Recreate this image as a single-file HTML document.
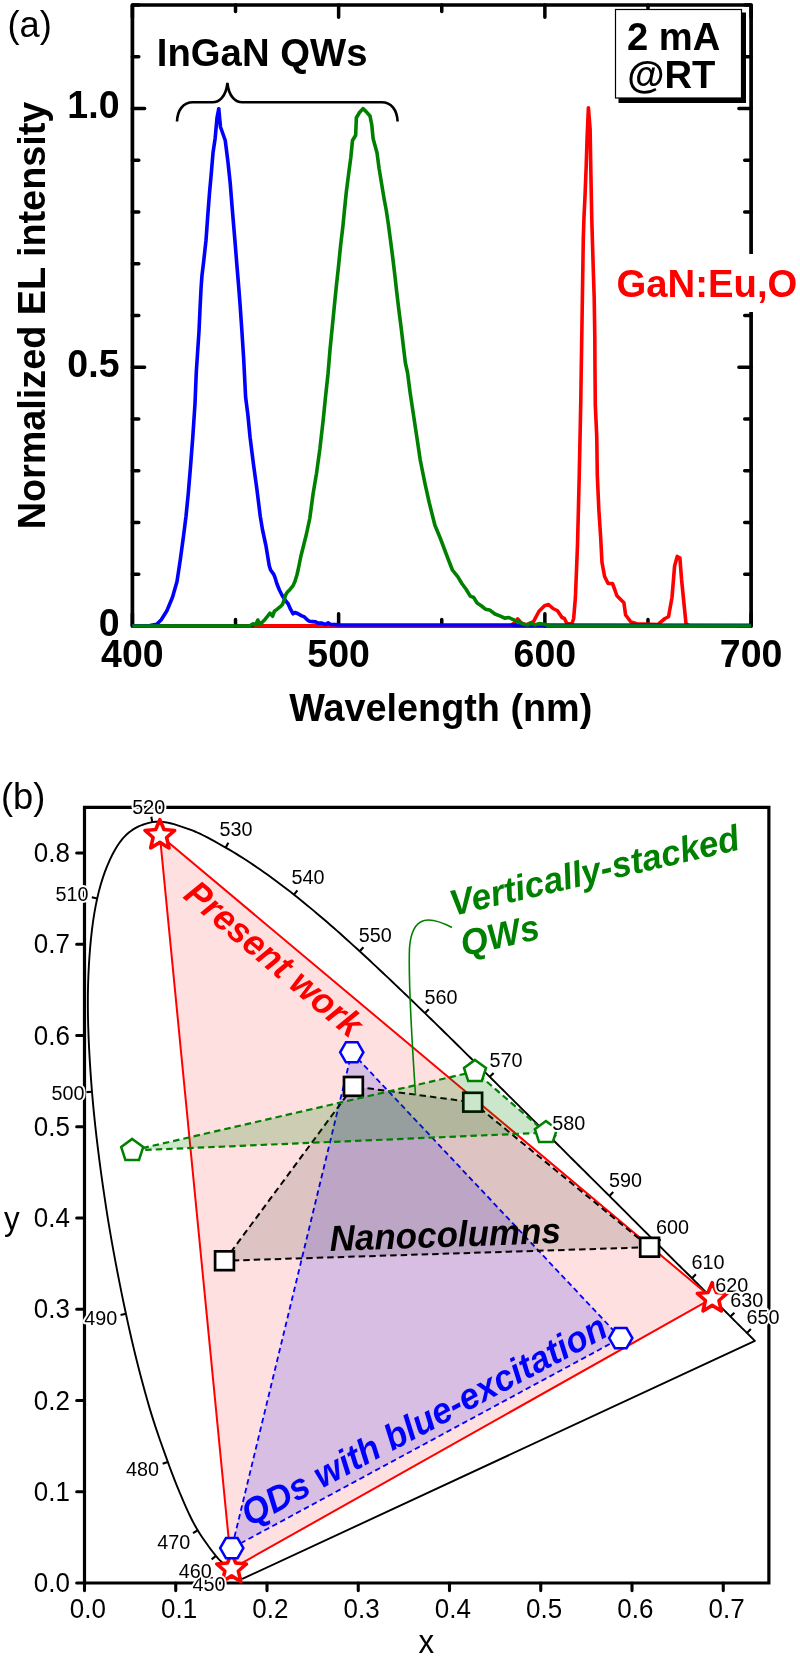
<!DOCTYPE html><html><head><meta charset="utf-8"><title>EL spectra and CIE diagram</title><style>html,body{margin:0;padding:0;background:#fff;overflow:hidden;}svg{display:block;will-change:transform;}text{font-family:"Liberation Sans",sans-serif;}</style></head><body>
<svg width="800" height="1657" viewBox="0 0 800 1657" font-family="Liberation Sans, sans-serif">
<rect width="800" height="1657" fill="#fff"/>
<text transform="translate(7.5 37.3) scale(1 1.035)" font-size="36.3">(a)</text>
<path d="M132.4 626V5H751.1V626Z" fill="none" stroke="#000" stroke-width="3.7" stroke-linejoin="round"/>
<path d="M132.4 626v-12.2M132.4 5v12.2M235.52 626v-6.4M235.52 5v6.4M338.63 626v-12.2M338.63 5v12.2M441.75 626v-6.4M441.75 5v6.4M544.87 626v-12.2M544.87 5v12.2M647.98 626v-6.4M647.98 5v6.4M751.1 626v-12.2M751.1 5v12.2M132.4 626h12.2M751.1 626h-12.2M132.4 574.25h6.4M751.1 574.25h-6.4M132.4 522.5h6.4M751.1 522.5h-6.4M132.4 470.75h6.4M751.1 470.75h-6.4M132.4 419h6.4M751.1 419h-6.4M132.4 367.25h12.2M751.1 367.25h-12.2M132.4 315.5h6.4M751.1 315.5h-6.4M132.4 263.75h6.4M751.1 263.75h-6.4M132.4 212h6.4M751.1 212h-6.4M132.4 160.25h6.4M751.1 160.25h-6.4M132.4 108.5h12.2M751.1 108.5h-12.2M132.4 56.75h6.4M751.1 56.75h-6.4M132.4 5h6.4M751.1 5h-6.4" stroke="#000" stroke-width="3.5" stroke-linecap="round" fill="none"/>
<path d="M253.5 625.9 L510 625.9 L514.3 623 L517.7 618.8 L521.2 623 L526 625 L533.5 621.6 L539 611.25 L544.5 605.75 L548.5 604.5 L553 608.5 L557.5 610.75 L562 617.5 L564.4 618.5 L567 623.75 L571.9 623.75 L573.65 618.5 L575.4 597.5 L576.6 567.75 L577.5 545 L578.4 510 L579.25 475 L580.1 434.75 L580.8 400 L581.2 372 L581.6 348.5 L582.2 309.6 L582.8 270.7 L583.3 238.6 L584 216.7 L585 196.4 L586.2 166 L587.05 138.9 L588.4 107.7 L590.1 128.8 L591 179.5 L591.8 220 L593 260.6 L594.2 297.8 L594.8 336.6 L595 372 L595.3 405 L596.75 436.5 L597.3 475 L598.85 510 L600.6 536.25 L602 562.5 L604.6 576.5 L608.1 583.5 L612.5 583.5 L615.1 590.5 L616.9 595.75 L620.4 599.25 L623.9 602.75 L625.6 615 L628.25 618.5 L630.9 622 L637 623.75 L658 624.6 L659.75 622.9 L665 618.5 L668.5 616.75 L672 597.5 L674.6 566 L677.25 556.4 L679.9 558.1 L681.6 580 L684.25 606.25 L686 623.75 L690 626.3 L700 626.3" fill="none" stroke="#f00" stroke-width="3.6" stroke-linejoin="round"/>
<path d="M132.4 626 L150 625.6 L156.75 624.25 L161.25 619.75 L166.9 610.75 L172.5 597.25 L177 581.5 L180.4 559 L183.75 534.25 L186 516.25 L188.25 493.75 L190.5 466.75 L192.75 437.5 L195 403.75 L196.3 372 L197.25 357.5 L199 331.25 L200.2 305 L201.1 287.5 L202 275.25 L203.7 261.25 L206 240.25 L207.75 215.75 L209.5 193 L211.25 173.75 L213 152.8 L215.1 138.75 L217 117.8 L218.8 108.7 L219.6 118 L220.5 127 L225.25 140.5 L227.9 161.5 L230.15 182.5 L232.25 208.75 L234.9 240.25 L237 266.5 L238.75 287.5 L240.1 305 L241.9 331.25 L243.6 357.5 L244.5 375 L245.6 397 L247.9 415 L250.1 437.5 L253.5 464.5 L256.9 489.25 L260.25 516.25 L262.5 529.75 L265.9 545.5 L269.25 565.75 L270.6 570 L273.75 574.4 L275 577.5 L276.9 583.75 L279.4 590 L281.9 595 L285 600 L288.1 603.75 L290.6 609.4 L293.1 613.75 L295 612.5 L298.1 613.75 L301.25 615.6 L304.4 616.9 L307.5 620 L309.4 621.25 L312.5 621.6 L315.6 621.9 L318.1 623.1 L321.9 623.1 L325.6 624.4 L328.1 622.8 L330.6 624.4 L340 624.9 L751.1 625.2" fill="none" stroke="#00f" stroke-width="3.6" stroke-linejoin="round"/>
<path d="M132.4 626 L250 625.8 L253.1 623.75 L255.6 625 L257.8 620 L260 624.4 L262.5 621.9 L265 619.4 L267.5 616.25 L270 613.1 L272.5 616.25 L274.4 611.25 L276.9 609.4 L280 606.9 L282.5 604.4 L284.1 600 L285.6 595 L287.5 591.9 L290 589.4 L293.1 585.6 L295 581.25 L296.9 575 L298.1 570 L300.75 556.75 L306.4 534.25 L309.75 518.5 L313.1 493.75 L316.5 473.5 L319.9 448.75 L323.25 419.5 L325.5 397 L328 374 L330.1 348.75 L331.85 331.25 L334.1 308.5 L336.2 287.5 L338.5 266.5 L340.6 245.5 L342.9 226.25 L344.6 208.75 L346.4 191.25 L348.65 173.75 L350.75 158 L352.5 140.5 L355.65 135.25 L356.35 117.75 L359.5 112.5 L363 108.65 L366.15 111.6 L370 116 L371.75 124.75 L373.15 138.75 L377 152.75 L379.1 168.5 L381.4 182.5 L384 198.25 L386.3 210.5 L388.4 224.5 L390.5 240.25 L392.75 257.75 L394.85 275.25 L396.8 292.75 L398.9 310.25 L401.15 327.75 L403.25 345.25 L405.35 362.75 L407.5 372.5 L410.1 392.5 L413.5 415 L416.9 437.5 L420.25 460 L424.75 482.5 L429.25 502.75 L434.9 525.25 L440.5 538.75 L447.25 556.75 L452.4 570 L457.9 576.9 L462 583.75 L466.1 589.25 L470.25 596.1 L473.7 597.5 L477.1 603 L481.25 605.75 L485.4 609.2 L489.5 609.9 L495 614 L500.5 616.1 L504.65 618.1 L508.8 617.5 L514.3 620.2 L519.8 622.3 L523.9 624.3 L528 625 L530.8 623 L534.9 625 L539 623.6 L544.5 624.3 L550 625.7 L560 626 L751.1 626" fill="none" stroke="#008000" stroke-width="3.6" stroke-linejoin="round"/>
<g font-weight="bold" font-size="37.5">
<text transform="translate(132.4 666.5) scale(1 1.035)" text-anchor="middle">400</text>
<text transform="translate(338.63 666.5) scale(1 1.035)" text-anchor="middle">500</text>
<text transform="translate(544.87 666.5) scale(1 1.035)" text-anchor="middle">600</text>
<text transform="translate(751.1 666.5) scale(1 1.035)" text-anchor="middle">700</text>
<text transform="translate(119.5 636) scale(1 1.035)" text-anchor="end">0</text>
<text transform="translate(119.5 376.5) scale(1 1.035)" text-anchor="end">0.5</text>
<text transform="translate(119.5 117.6) scale(1 1.035)" text-anchor="end">1.0</text>
<text transform="translate(440.8 721) scale(1 1.035)" text-anchor="middle" font-size="37.8">Wavelength (nm)</text>
<text transform="translate(45.4 315.5) rotate(-90) scale(1 1.035)" text-anchor="middle" font-size="37.8">Normalized EL intensity</text>
<text transform="translate(156.8 66) scale(1 1.035)" font-size="38.3">InGaN QWs</text>
</g>
<path d="M177 121.5C177.5 110 183 102.3 193 102.3H212.5C219 102.3 226 97 227.4 83C228.8 97 235.8 102.3 242.3 102.3H381.6C391.6 102.3 397.1 110 397.6 121.5" fill="none" stroke="#000" stroke-width="2.6"/>
<rect x="612" y="254" width="188" height="58" fill="#fff"/>
<text transform="translate(616.5 297.3) scale(1 1.035)" font-weight="bold" font-size="38.3" fill="#f00">GaN:Eu,O</text>
<rect x="618.5" y="12.5" width="127.5" height="90.5" fill="#000"/>
<rect x="615.5" y="9.5" width="126" height="88.5" fill="#fff" stroke="#000" stroke-width="1.2"/>
<text transform="translate(627 49.8) scale(1 1.035)" font-weight="bold" font-size="38.2">2 mA</text>
<text transform="translate(627.2 88) scale(1 1.035)" font-weight="bold" font-size="38.2">@RT</text>
<text transform="translate(1 809.2) scale(1 1.035)" font-size="36.3">(b)</text>
<path d="M84.5 1583V807.38H768.88V1583Z" fill="none" stroke="#000" stroke-width="3.2"/>
<path d="M84.5 1583v7.6M175.75 1583v7.6M267 1583v7.6M358.25 1583v7.6M449.5 1583v7.6M540.75 1583v7.6M632 1583v7.6M723.25 1583v7.6M84.5 1583h-7.8M84.5 1491.75h-7.8M84.5 1400.5h-7.8M84.5 1309.25h-7.8M84.5 1218h-7.8M84.5 1126.75h-7.8M84.5 1035.5h-7.8M84.5 944.25h-7.8M84.5 853h-7.8" stroke="#000" stroke-width="3.1" stroke-linecap="round" fill="none"/>
<g font-size="26">
<text transform="translate(87.8 1618.3) scale(1 1.035)" text-anchor="middle">0.0</text>
<text transform="translate(179.05 1618.3) scale(1 1.035)" text-anchor="middle">0.1</text>
<text transform="translate(270.3 1618.3) scale(1 1.035)" text-anchor="middle">0.2</text>
<text transform="translate(361.55 1618.3) scale(1 1.035)" text-anchor="middle">0.3</text>
<text transform="translate(452.8 1618.3) scale(1 1.035)" text-anchor="middle">0.4</text>
<text transform="translate(544.05 1618.3) scale(1 1.035)" text-anchor="middle">0.5</text>
<text transform="translate(635.3 1618.3) scale(1 1.035)" text-anchor="middle">0.6</text>
<text transform="translate(726.55 1618.3) scale(1 1.035)" text-anchor="middle">0.7</text>
<text transform="translate(70 1592) scale(1 1.035)" text-anchor="end">0.0</text>
<text transform="translate(70 1500.75) scale(1 1.035)" text-anchor="end">0.1</text>
<text transform="translate(70 1409.5) scale(1 1.035)" text-anchor="end">0.2</text>
<text transform="translate(70 1318.25) scale(1 1.035)" text-anchor="end">0.3</text>
<text transform="translate(70 1227) scale(1 1.035)" text-anchor="end">0.4</text>
<text transform="translate(70 1135.75) scale(1 1.035)" text-anchor="end">0.5</text>
<text transform="translate(70 1044.5) scale(1 1.035)" text-anchor="end">0.6</text>
<text transform="translate(70 953.25) scale(1 1.035)" text-anchor="end">0.7</text>
<text transform="translate(70 862) scale(1 1.035)" text-anchor="end">0.8</text>
</g>
<text transform="translate(418.5 1653) scale(1 1.035)" font-size="31.3">x</text>
<text transform="translate(4 1229.5) scale(1 1.035)" font-size="31.3">y</text>
<path d="M243.37 1578.44 L243.35 1578.44 L243.33 1578.45 L243.31 1578.46 L243.29 1578.47 L243.26 1578.48 L243.23 1578.49 L243.2 1578.5 L243.16 1578.51 L243.13 1578.52 L243.09 1578.53 L243.06 1578.54 L243.02 1578.55 L242.97 1578.56 L242.93 1578.57 L242.89 1578.58 L242.84 1578.59 L242.79 1578.6 L242.74 1578.61 L242.69 1578.61 L242.64 1578.62 L242.58 1578.62 L242.53 1578.63 L242.47 1578.64 L242.42 1578.64 L242.36 1578.64 L242.29 1578.64 L242.23 1578.64 L242.16 1578.64 L242.08 1578.63 L242 1578.62 L241.91 1578.61 L241.83 1578.6 L241.74 1578.6 L241.65 1578.6 L241.55 1578.59 L241.45 1578.57 L241.33 1578.54 L241.2 1578.49 L241.06 1578.43 L240.9 1578.35 L240.73 1578.25 L240.55 1578.14 L240.36 1578.02 L240.16 1577.88 L239.95 1577.74 L239.72 1577.57 L239.48 1577.39 L239.21 1577.18 L238.93 1576.96 L238.62 1576.7 L238.3 1576.43 L237.96 1576.14 L237.62 1575.84 L237.25 1575.51 L236.87 1575.16 L236.46 1574.79 L236.03 1574.4 L235.56 1573.98 L235.06 1573.53 L234.51 1573.05 L233.94 1572.56 L233.35 1572.05 L232.74 1571.53 L232.1 1570.98 L231.42 1570.41 L230.7 1569.8 L229.95 1569.14 L229.15 1568.43 L228.3 1567.67 L227.4 1566.85 L226.46 1566.01 L225.48 1565.2 L224.48 1564.38 L223.43 1563.52 L222.34 1562.59 L221.19 1561.56 L219.98 1560.41 L218.7 1559.1 L217.34 1557.61 L215.9 1555.9 L214.33 1553.93 L212.62 1551.72 L210.79 1549.31 L208.88 1546.74 L206.93 1544.05 L204.97 1541.28 L203.04 1538.47 L201.16 1535.67 L199.39 1532.92 L197.74 1530.26 L196.23 1527.71 L194.84 1525.26 L193.52 1522.86 L192.26 1520.47 L191.03 1518.04 L189.82 1515.53 L188.58 1512.89 L187.3 1510.09 L185.95 1507.07 L184.51 1503.8 L183 1500.32 L181.45 1496.73 L179.88 1493 L178.27 1489.12 L176.62 1485.08 L174.94 1480.86 L173.22 1476.44 L171.46 1471.83 L169.66 1466.99 L167.81 1461.91 L165.91 1456.63 L163.95 1451.18 L161.93 1445.53 L159.88 1439.7 L157.79 1433.65 L155.67 1427.38 L153.55 1420.88 L151.42 1414.13 L149.29 1407.13 L147.19 1399.86 L145.08 1392.32 L142.96 1384.53 L140.82 1376.48 L138.67 1368.19 L136.52 1359.67 L134.37 1350.92 L132.23 1341.95 L130.11 1332.77 L128 1323.39 L125.93 1313.81 L123.85 1303.97 L121.75 1293.82 L119.65 1283.39 L117.55 1272.74 L115.48 1261.9 L113.44 1250.92 L111.46 1239.84 L109.53 1228.7 L107.69 1217.54 L105.94 1206.41 L104.26 1195.2 L102.61 1183.8 L101 1172.27 L99.44 1160.65 L97.96 1148.99 L96.56 1137.33 L95.24 1125.73 L94.04 1114.22 L92.95 1102.87 L91.98 1091.71 L91.12 1080.66 L90.35 1069.62 L89.66 1058.62 L89.06 1047.69 L88.58 1036.87 L88.21 1026.19 L87.96 1015.68 L87.85 1005.38 L87.88 995.3 L88.06 985.49 L88.38 975.88 L88.83 966.37 L89.41 957.01 L90.11 947.82 L90.95 938.85 L91.92 930.14 L93.03 921.7 L94.27 913.58 L95.66 905.82 L97.18 898.44 L98.87 891.4 L100.72 884.62 L102.72 878.12 L104.87 871.93 L107.14 866.05 L109.53 860.51 L112.02 855.32 L114.61 850.5 L117.27 846.07 L120 842.05 L122.82 838.46 L125.78 835.31 L128.86 832.55 L132.04 830.18 L135.3 828.15 L138.63 826.43 L142.01 825 L145.42 823.84 L148.86 822.9 L152.3 822.16 L155.77 821.71 L159.31 821.64 L162.9 821.9 L166.54 822.44 L170.21 823.22 L173.91 824.2 L177.62 825.32 L181.33 826.53 L185.03 827.81 L188.71 829.09 L192.39 830.46 L196.1 832 L199.82 833.68 L203.55 835.49 L207.28 837.4 L211.01 839.39 L214.71 841.43 L218.4 843.49 L222.05 845.56 L225.66 847.62 L229.24 849.67 L232.79 851.77 L236.32 853.91 L239.82 856.09 L243.31 858.3 L246.78 860.55 L250.23 862.82 L253.67 865.12 L257.1 867.45 L260.52 869.79 L263.93 872.16 L267.31 874.56 L270.68 876.98 L274.04 879.44 L277.38 881.92 L280.71 884.43 L284.04 886.96 L287.36 889.52 L290.69 892.1 L294.01 894.7 L297.33 897.33 L300.65 899.99 L303.96 902.68 L307.27 905.39 L310.58 908.12 L313.88 910.88 L317.17 913.65 L320.47 916.45 L323.76 919.25 L327.04 922.08 L330.32 924.92 L333.6 927.78 L336.87 930.66 L340.14 933.56 L343.4 936.48 L346.67 939.42 L349.93 942.36 L353.19 945.33 L356.45 948.3 L359.71 951.28 L362.97 954.27 L366.23 957.28 L369.49 960.3 L372.74 963.33 L376 966.38 L379.25 969.44 L382.51 972.5 L385.77 975.58 L389.03 978.66 L392.29 981.75 L395.55 984.85 L398.82 987.97 L402.09 991.09 L405.36 994.22 L408.63 997.36 L411.9 1000.51 L415.16 1003.66 L418.43 1006.82 L421.69 1009.98 L424.95 1013.14 L428.21 1016.31 L431.47 1019.48 L434.72 1022.66 L437.97 1025.85 L441.22 1029.04 L444.47 1032.23 L447.71 1035.42 L450.96 1038.61 L454.2 1041.8 L457.44 1044.99 L460.68 1048.18 L463.92 1051.37 L467.16 1054.56 L470.4 1057.75 L473.64 1060.94 L476.87 1064.12 L480.1 1067.31 L483.32 1070.49 L486.54 1073.67 L489.74 1076.84 L492.94 1080 L496.13 1083.17 L499.32 1086.33 L502.5 1089.49 L505.67 1092.65 L508.84 1095.8 L511.99 1098.94 L515.14 1102.08 L518.28 1105.2 L521.41 1108.32 L524.52 1111.42 L527.63 1114.52 L530.74 1117.62 L533.83 1120.7 L536.92 1123.78 L539.99 1126.84 L543.05 1129.9 L546.1 1132.94 L549.14 1135.97 L552.16 1138.98 L555.16 1141.98 L558.16 1144.96 L561.15 1147.94 L564.12 1150.91 L567.08 1153.86 L570.03 1156.8 L572.96 1159.72 L575.87 1162.62 L578.76 1165.5 L581.63 1168.36 L584.49 1171.2 L587.33 1174.02 L590.16 1176.83 L592.97 1179.62 L595.76 1182.4 L598.53 1185.15 L601.28 1187.88 L604.01 1190.58 L606.7 1193.26 L609.37 1195.92 L612.01 1198.55 L614.64 1201.17 L617.24 1203.77 L619.82 1206.35 L622.37 1208.91 L624.89 1211.44 L627.38 1213.93 L629.84 1216.39 L632.26 1218.81 L634.65 1221.19 L636.99 1223.53 L639.3 1225.83 L641.57 1228.1 L643.81 1230.32 L646.01 1232.52 L648.19 1234.69 L650.34 1236.82 L652.46 1238.94 L654.56 1241.03 L656.64 1243.09 L658.69 1245.14 L660.73 1247.17 L662.74 1249.17 L664.72 1251.15 L666.68 1253.1 L668.61 1255.02 L670.5 1256.9 L672.37 1258.76 L674.19 1260.57 L675.98 1262.35 L677.74 1264.08 L679.45 1265.78 L681.14 1267.45 L682.79 1269.08 L684.41 1270.67 L685.99 1272.24 L687.55 1273.78 L689.08 1275.28 L690.57 1276.77 L692.04 1278.22 L693.48 1279.66 L694.89 1281.06 L696.26 1282.43 L697.61 1283.78 L698.92 1285.09 L700.21 1286.38 L701.47 1287.64 L702.7 1288.88 L703.91 1290.09 L705.09 1291.27 L706.25 1292.43 L707.37 1293.56 L708.47 1294.66 L709.54 1295.73 L710.59 1296.78 L711.61 1297.8 L712.61 1298.8 L713.59 1299.78 L714.55 1300.74 L715.49 1301.68 L716.42 1302.59 L717.32 1303.48 L718.19 1304.35 L719.05 1305.19 L719.88 1306.02 L720.69 1306.82 L721.49 1307.61 L722.28 1308.38 L723.04 1309.14 L723.8 1309.89 L724.54 1310.62 L725.25 1311.34 L725.95 1312.04 L726.63 1312.72 L727.3 1313.38 L727.95 1314.04 L728.59 1314.68 L729.22 1315.31 L729.84 1315.94 L730.46 1316.55 L731.06 1317.16 L731.66 1317.75 L732.24 1318.33 L732.81 1318.9 L733.37 1319.46 L733.92 1320.01 L734.46 1320.55 L734.99 1321.08 L735.51 1321.61 L736.03 1322.12 L736.53 1322.62 L737.02 1323.11 L737.5 1323.59 L737.97 1324.06 L738.43 1324.52 L738.88 1324.97 L739.32 1325.42 L739.75 1325.85 L740.17 1326.27 L740.59 1326.68 L740.99 1327.08 L741.39 1327.47 L741.78 1327.85 L742.16 1328.21 L742.53 1328.57 L742.89 1328.92 L743.24 1329.26 L743.58 1329.59 L743.91 1329.92 L744.24 1330.24 L744.55 1330.55 L744.85 1330.85 L745.15 1331.14 L745.43 1331.42 L745.7 1331.7 L745.97 1331.97 L746.23 1332.23 L746.48 1332.48 L746.73 1332.73 L746.97 1332.97 L747.21 1333.21 L747.44 1333.44 L747.67 1333.67 L747.89 1333.89 L748.1 1334.1 L748.3 1334.3 L748.5 1334.5 L748.7 1334.7 L748.89 1334.89 L749.07 1335.07 L749.25 1335.25 L749.43 1335.43 L749.6 1335.6 L749.76 1335.76 L749.92 1335.92 L750.07 1336.07 L750.22 1336.22 L750.36 1336.36 L750.49 1336.49 L750.62 1336.62 L750.75 1336.75 L750.86 1336.86 L750.97 1336.97 L751.07 1337.07 L751.17 1337.17 L751.27 1337.27 L751.36 1337.36 L751.45 1337.45 L751.54 1337.54 L751.63 1337.63 L751.72 1337.72 L751.8 1337.8 L751.87 1337.87 L751.95 1337.95 L752.02 1338.02 L752.1 1338.1 L752.18 1338.18 L752.26 1338.26 L752.35 1338.35 L752.45 1338.45 L752.56 1338.56 L752.68 1338.68 L752.81 1338.81 L752.95 1338.95 L753.08 1339.08 L753.22 1339.22 L753.36 1339.36 L753.49 1339.49 L753.61 1339.61 L753.73 1339.73 L753.84 1339.84 L753.94 1339.94 L754.05 1340.05 L754.15 1340.15 L754.25 1340.25 L754.34 1340.34 L754.42 1340.42 L754.5 1340.5 L754.58 1340.58 L754.64 1340.64 L754.69 1340.69 L754.74 1340.74 L754.78 1340.78 L754.81 1340.81 L754.83 1340.83 L754.85 1340.85 L754.87 1340.87 L754.89 1340.89 L754.9 1340.9 L754.91 1340.91Z" fill="none" stroke="#000" stroke-width="1.9" stroke-linejoin="round"/>
<path d="M227.4 1566.85l-3.73 4.04M215.9 1555.9l-4.27 3.46M197.74 1530.26l-4.71 2.84M167.81 1461.91l-5.18 1.86M125.93 1313.81l-5.38 1.15M91.98 1091.71l-5.48 0.44M97.18 898.44l-5.37 -1.2M152.3 822.16l-1.02 -5.4M225.66 847.62l2.71 -4.79M294.01 894.7l3.4 -4.32M359.71 951.28l3.71 -4.06M424.95 1013.14l3.83 -3.95M489.74 1076.84l3.87 -3.91M552.16 1138.98l3.88 -3.89M609.37 1195.92l3.88 -3.9M656.64 1243.09l3.88 -3.9M692.04 1278.22l3.88 -3.9M715.49 1301.68l3.88 -3.9M730.46 1316.55l3.89 -3.89M746.98 1332.97l3.89 -3.89" stroke="#000" stroke-width="2.1" fill="none"/>
<polygon points="159.85,835.3 712.2,1298.3 231.6,1568.8" fill="rgba(255,0,0,0.12)" stroke="#f00" stroke-width="2"/>
<polygon points="351.75,1052.3 620.75,1338.1 231.75,1548.1" fill="rgba(0,0,255,0.15)"/>
<polygon points="351.75,1052.3 620.75,1338.1 231.75,1548.1" fill="none" stroke="#00f" stroke-width="1.8" stroke-dasharray="5.5 3.5"/>
<polygon points="224.5,1260.75 353.4,1086.4 472.7,1102.2 649.6,1247.25" fill="rgba(0,0,0,0.13)"/>
<polygon points="224.5,1260.75 353.4,1086.4 472.7,1102.2 649.6,1247.25" fill="none" stroke="#000" stroke-width="2" stroke-dasharray="6.5 4"/>
<rect x="215.1" y="1251.35" width="18.8" height="18.8" fill="#fff" stroke="#000" stroke-width="2.7"/>
<rect x="344" y="1077" width="18.8" height="18.8" fill="#fff" stroke="#000" stroke-width="2.7"/>
<rect x="463.3" y="1092.8" width="18.8" height="18.8" fill="#fff" stroke="#000" stroke-width="2.7"/>
<rect x="640.2" y="1237.85" width="18.8" height="18.8" fill="#fff" stroke="#000" stroke-width="2.7"/>
<polygon points="132.2,1150.5 475,1071.5 545.9,1132.7" fill="rgba(0,128,0,0.2)"/>
<polygon points="132.2,1150.5 475,1071.5 545.9,1132.7" fill="none" stroke="#008000" stroke-width="2.2" stroke-dasharray="6.5 4"/>
<polygon points="159.85,819.7 164.02,829.56 174.69,830.48 166.6,837.49 169.02,847.92 159.85,842.4 150.68,847.92 153.1,837.49 145.01,830.48 155.68,829.56" fill="#fff" stroke="#f00" stroke-width="3.6" stroke-linejoin="round"/>
<polygon points="712.2,1282.7 716.37,1292.56 727.04,1293.48 718.95,1300.49 721.37,1310.92 712.2,1305.4 703.03,1310.92 705.45,1300.49 697.36,1293.48 708.03,1292.56" fill="#fff" stroke="#f00" stroke-width="3.6" stroke-linejoin="round"/>
<polygon points="231.6,1553.2 235.77,1563.06 246.44,1563.98 238.35,1570.99 240.77,1581.42 231.6,1575.9 222.43,1581.42 224.85,1570.99 216.76,1563.98 227.43,1563.06" fill="#fff" stroke="#f00" stroke-width="3.6" stroke-linejoin="round"/>
<polygon points="363.35,1052.3 357.55,1062.35 345.95,1062.35 340.15,1052.3 345.95,1042.25 357.55,1042.25" fill="#fff" stroke="#00f" stroke-width="2.5"/>
<polygon points="632.35,1338.1 626.55,1348.15 614.95,1348.15 609.15,1338.1 614.95,1328.05 626.55,1328.05" fill="#fff" stroke="#00f" stroke-width="2.5"/>
<polygon points="243.35,1548.1 237.55,1558.15 225.95,1558.15 220.15,1548.1 225.95,1538.05 237.55,1538.05" fill="#fff" stroke="#00f" stroke-width="2.5"/>
<polygon points="132.2,1138.9 143.23,1146.92 139.02,1159.88 125.38,1159.88 121.17,1146.92" fill="#fff" stroke="#008000" stroke-width="2.5"/>
<polygon points="475,1059.9 486.03,1067.92 481.82,1080.88 468.18,1080.88 463.97,1067.92" fill="#fff" stroke="#008000" stroke-width="2.5"/>
<polygon points="545.9,1121.1 556.93,1129.12 552.72,1142.08 539.08,1142.08 534.87,1129.12" fill="#fff" stroke="#008000" stroke-width="2.5"/>
<path d="M452 927.5C430 916 412 914 409.5 948C408 985 412 1040 415.5 1095" fill="none" stroke="#008000" stroke-width="1.6"/>
<g font-weight="bold" font-style="italic" font-size="35">
<text transform="translate(182 897.3) rotate(40.2) scale(1 1.035)" fill="#f00">Present work</text>
<text transform="translate(452.7 915.9) rotate(-13) scale(1 1.035)" fill="#008000">Vertically-stacked</text>
<text transform="translate(463.8 956.3) rotate(-13) scale(1 1.035)" fill="#008000">QWs</text>
<text transform="translate(330 1251) rotate(-2) scale(1 1.035)" fill="#000">Nanocolumns</text>
<text transform="translate(249.5 1527) rotate(-28) scale(1 1.035)" fill="#00f">QDs with blue-excitation</text>
</g>
<g font-size="19.8" stroke="#fff" stroke-width="3.8" stroke-linejoin="round" paint-order="stroke" text-anchor="middle">
<text transform="translate(209 1590.85) scale(1 1.035)">450</text>
<text transform="translate(195.25 1578.35) scale(1 1.035)">460</text>
<text transform="translate(173.75 1548.6) scale(1 1.035)">470</text>
<text transform="translate(142.45 1476.4) scale(1 1.035)">480</text>
<text transform="translate(100.75 1325.1) scale(1 1.035)">490</text>
<text transform="translate(67.95 1099.95) scale(1 1.035)">500</text>
<text transform="translate(71.9 900.5) scale(1 1.035)">510</text>
<text transform="translate(148.75 813.85) scale(1 1.035)">520</text>
<text transform="translate(236.05 836.35) scale(1 1.035)">530</text>
<text transform="translate(307.95 884.1) scale(1 1.035)">540</text>
<text transform="translate(375.25 941.5) scale(1 1.035)">550</text>
<text transform="translate(441.1 1003.7) scale(1 1.035)">560</text>
<text transform="translate(506 1067.4) scale(1 1.035)">570</text>
<text transform="translate(568.8 1129.7) scale(1 1.035)">580</text>
<text transform="translate(625.4 1186.65) scale(1 1.035)">590</text>
<text transform="translate(672.6 1233.75) scale(1 1.035)">600</text>
<text transform="translate(708.05 1268.75) scale(1 1.035)">610</text>
<text transform="translate(731.85 1292.2) scale(1 1.035)">620</text>
<text transform="translate(746.7 1307.3) scale(1 1.035)">630</text>
<text transform="translate(762.9 1323.5) scale(1 1.035)">650</text>
</g>
</svg></body></html>
